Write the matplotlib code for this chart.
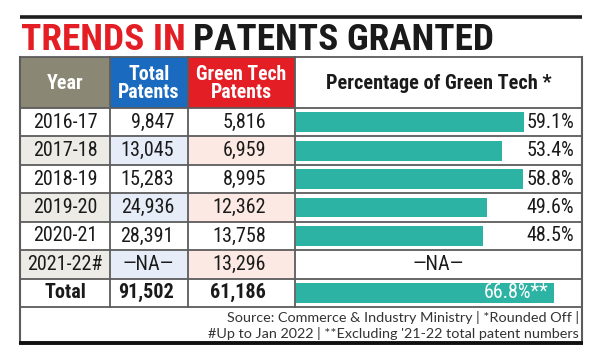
import matplotlib
matplotlib.use("Agg")
import matplotlib.pyplot as plt
from matplotlib import font_manager
from matplotlib.patches import Rectangle
from matplotlib.transforms import blended_transform_factory

# data
years = ["2016-17", "2017-18", "2018-19", "2019-20", "2020-21", "2021-22#", "Total"]
total_patents = ["9,847", "13,045", "15,283", "24,936", "28,391", "\u2014NA\u2014", "91,502"]
green_patents = ["5,816", "6,959", "8,995", "12,362", "13,758", "13,296", "61,186"]
green_pct = [59.1, 53.4, 58.8, 49.6, 48.5, None, 66.8]
pct_labels = ["59.1%", "53.4%", "58.8%", "49.6%", "48.5%", "\u2014NA\u2014", "66.8%**"]
headers = ["Year", "Total\nPatents", "Green Tech\nPatents", "Percentage of Green Tech *"]
source_lines = ["Source: Commerce & Industry Ministry | *Rounded Off |",
                "#Up to Jan 2022 | **Excluding '21-22 total patent numbers"]


def pick_font(names):
    have = {f.name for f in font_manager.fontManager.ttflist}
    for n in names:
        if n in have:
            return n
    return "DejaVu Sans"


NARROW = pick_font(["Liberation Sans Narrow", "Roboto Condensed", "DejaVu Sans"])
PLAIN = pick_font(["Lato", "Liberation Sans", "DejaVu Sans"])

RED = "#e31e25"
BLUE = "#1a6bbf"
KHAKI = "#8b8775"
TEAL = "#2db3a3"
GRID = "#5c5c5c"
INK = "#1a1a1a"
SHADE = ["#ecebe5", "#e6edf8", "#fce9e3", "white"]

W, H = 600, 355
fig = plt.figure(figsize=(W / 100, H / 100), dpi=100)
ax = fig.add_axes([0, 0, 1, 1])
ax.set_xlim(0, W)
ax.set_ylim(H, 0)
ax.axis("off")

cols = [20, 110, 188, 295, 582]
head_top, head_bot = 57, 108
row_h = (307 - head_bot) / len(years)
foot_bot = 343
BODY = 14.5

# top rule and title
ax.plot([20, 582], [17, 17], color="#1e1e1e", lw=2.6, solid_capstyle="butt")
t1 = ax.text(21, 50, "TRENDS IN", color=RED, fontsize=26.8, fontweight="bold",
             family=NARROW, va="baseline", ha="left")
ax.annotate("PATENTS GRANTED", xy=(1, 0), xycoords=t1, xytext=(5, 0),
            textcoords="offset points", va="bottom", ha="left",
            color=INK, fontsize=26.8, fontweight="bold", family=NARROW)

# header cells
head_colors = [KHAKI, BLUE, RED, "white"]
head_sizes = [14.5, 14.3, 14.2, 14.6]
for i, (h, c) in enumerate(zip(headers, head_colors)):
    ax.add_patch(Rectangle((cols[i], head_top), cols[i + 1] - cols[i],
                           head_bot - head_top, facecolor=c, edgecolor="none"))
    ax.text((cols[i] + cols[i + 1]) / 2, (head_top + head_bot) / 2 + 1, h,
            color="white" if c != "white" else INK, fontsize=head_sizes[i],
            fontweight="bold", family=NARROW, ha="center", va="center",
            linespacing=0.95)

# body rows
for r, yr in enumerate(years):
    y0 = head_bot + r * row_h
    yc = y0 + row_h / 2
    if r % 2 == 1 and yr != "Total":
        for c in range(3):
            ax.add_patch(Rectangle((cols[c], y0), cols[c + 1] - cols[c], row_h,
                                   facecolor=SHADE[c], edgecolor="none"))
    wt = "bold" if yr == "Total" else "normal"
    ax.text((cols[0] + cols[1]) / 2, yc, yr, fontsize=BODY, family=NARROW,
            fontweight=wt, ha="center", va="center", color=INK)
    ax.text(cols[2] - 14, yc, total_patents[r], fontsize=BODY, family=NARROW,
            fontweight=wt, ha="right", va="center", color=INK)
    ax.text(cols[3] - 29, yc, green_patents[r], fontsize=BODY, family=NARROW,
            fontweight=wt, ha="right", va="center", color=INK)

# grid lines
body_bot = head_bot + len(years) * row_h
for r in range(len(years) + 1):
    y = head_bot + r * row_h
    ax.plot([cols[0], cols[-1]], [y, y], color=GRID, lw=1.3)
ax.plot([cols[0], cols[-1]], [head_top, head_top], color=GRID, lw=1.3)
for x in cols[1:-1]:
    ax.plot([x, x], [head_top, body_bot], color=GRID, lw=1.3)
for x in (cols[0], cols[-1]):
    ax.plot([x, x], [head_top, foot_bot], color=GRID, lw=1.5)
ax.plot([cols[0] - 0.7, cols[-1] + 0.7], [foot_bot, foot_bot], color="#111111",
        lw=2.8, solid_capstyle="butt")

# source notes
for k, line in enumerate(source_lines):
    ax.text(579, 318 + k * 15, line, fontsize=10.4, family=PLAIN, color="#333333",
            ha="right", va="center")

# percentage bars
bax = fig.add_axes([cols[3] / W, 1 - body_bot / H, (cols[4] - cols[3]) / W,
                    (body_bot - head_bot) / H])
bax.set_xlim(0, 74.3)
bax.set_ylim(len(years) - 0.5, -0.5)
bax.axis("off")
bax.patch.set_alpha(0)
idx = [i for i, v in enumerate(green_pct) if v is not None]
bax.barh(idx, [green_pct[i] for i in idx], height=0.7, left=0.15, color=TEAL)
tr = blended_transform_factory(bax.transAxes, bax.transData)
for i, lab in enumerate(pct_labels):
    if green_pct[i] is None:
        bax.text(0.5, i, lab, transform=tr, ha="center", va="center",
                 fontsize=BODY, family=NARROW, color=INK)
    elif years[i] == "Total":
        bax.text(green_pct[i] - 1.2, i, lab, ha="right", va="center",
                 fontsize=BODY, family=NARROW, color="white")
    else:
        bax.text(0.972, i, lab, transform=tr, ha="right", va="center",
                 fontsize=BODY, family=NARROW, color=INK)

fig.savefig("out.png", dpi=100)
